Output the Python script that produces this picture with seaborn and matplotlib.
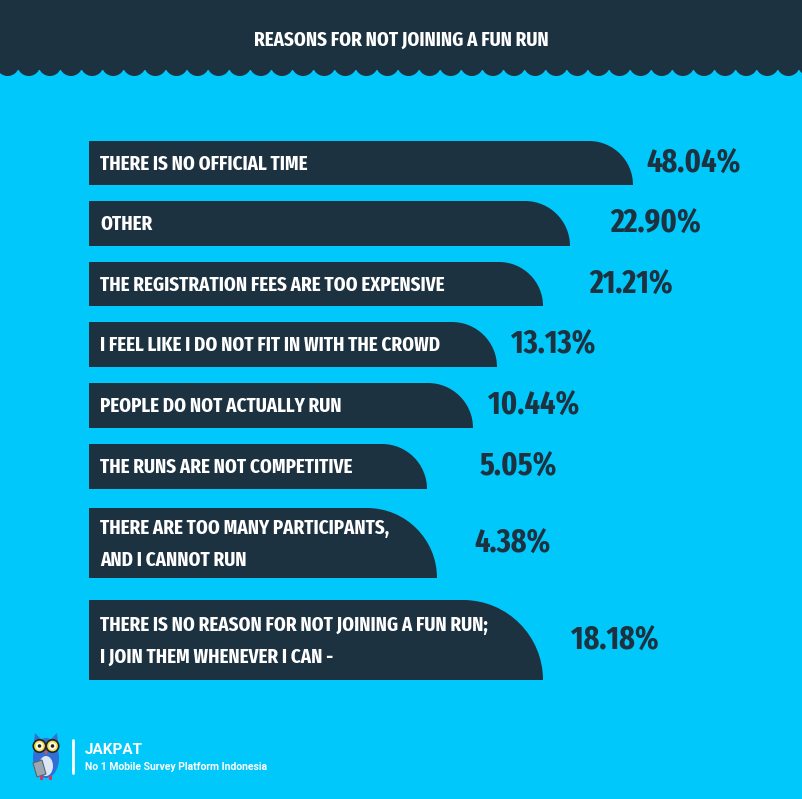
import matplotlib
matplotlib.use("Agg")
import matplotlib.pyplot as plt
import seaborn as sns
from matplotlib import font_manager
from matplotlib.font_manager import FontProperties
from matplotlib.path import Path
from matplotlib.patches import PathPatch, Rectangle, Circle, Ellipse, Polygon

# data read from the infographic
reasons = [
    "THERE IS NO OFFICIAL TIME",
    "OTHER",
    "THE REGISTRATION FEES ARE TOO EXPENSIVE",
    "I FEEL LIKE I DO NOT FIT IN WITH THE CROWD",
    "PEOPLE DO NOT ACTUALLY RUN",
    "THE RUNS ARE NOT COMPETITIVE",
    "THERE ARE TOO MANY PARTICIPANTS,\nAND I CANNOT RUN",
    "THERE IS NO REASON FOR NOT JOINING A FUN RUN;\nI JOIN THEM WHENEVER I CAN -",
]
share = [48.04, 22.90, 21.21, 13.13, 10.44, 5.05, 4.38, 18.18]
# the bars in the picture are not scaled to the shares, these are the drawn lengths (px)
bar_len = [544, 481, 454, 408, 384, 338, 348, 454]

# layout (pixels, from the top of the image)
row_y = [163, 223.5, 284, 344.5, 405.5, 466.5, 543, 640]
bar_h = [44, 45, 44, 45, 45, 45, 70, 80]
pct_x = [646, 610, 589, 511, 488, 480, 474, 571]
bar_x0 = 89

W, H = 803, 799
BG = "#00C8FA"
DARK = "#1D3241"

sns.set_theme(style="white")


def stretch_val(s):
    table = {"ultra-condensed": 100, "extra-condensed": 200, "condensed": 300,
             "semi-condensed": 400, "normal": 500}
    if isinstance(s, str):
        return table.get(s, 500)
    return s


def weight_val(w):
    table = {"bold": 700, "semibold": 600, "demibold": 600, "heavy": 800,
             "black": 900, "normal": 400, "regular": 400, "medium": 500}
    if isinstance(w, str):
        return table.get(w, 400)
    return w


# pick the narrowest bold face that is installed (the original uses a condensed display font)
cands = []
for f in font_manager.fontManager.ttflist:
    if "CJK" in f.name or f.style != "normal":
        continue
    st = stretch_val(f.stretch)
    narrow = "Condensed" in f.name or "Narrow" in f.name
    if st < 500 or narrow:
        if "Extra" in f.name or "Ultra" in f.name:
            st = min(st, 200)
        elif narrow:
            st = min(st, 300)
        cands.append((abs(st - 200) + abs(weight_val(f.weight) - 700) / 2, f.fname))
if cands:
    cands.sort()
    COND = FontProperties(fname=cands[0][1])
else:
    COND = FontProperties(family="Roboto", weight="bold")

fig = plt.figure(figsize=(W / 100, H / 100), dpi=100, facecolor=BG)
renderer = fig.canvas.get_renderer()

# bars (drawn in their own axes, one data unit = one pixel)
bax = fig.add_axes([bar_x0 / W, 0, (W - bar_x0) / W, 1])
sns.barplot(x=bar_len, y=row_y, orient="h", native_scale=True,
            color=DARK, saturation=1, ax=bax)
bax.set_xlim(0, W - bar_x0)
bax.set_ylim(H, 0)
bax.axis("off")
bax.patch.set_alpha(0)
bax.set_zorder(1)

k = 0.5523
bars = sorted(bax.patches, key=lambda p: p.get_y())
for p, h in zip(bars, bar_h):
    yc = p.get_y() + p.get_height() / 2
    x0, x1 = p.get_x(), p.get_x() + p.get_width()
    yt, yb = yc - h / 2, yc + h / 2
    rx = ry = h
    verts = [(x0, yt), (x1 - rx, yt),
             (x1 - rx + k * rx, yt), (x1, yt + ry - k * ry), (x1, yt + ry),
             (x1, yb), (x0, yb), (x0, yt)]
    codes = [Path.MOVETO, Path.LINETO,
             Path.CURVE4, Path.CURVE4, Path.CURVE4,
             Path.LINETO, Path.LINETO, Path.CLOSEPOLY]
    bax.add_patch(PathPatch(Path(verts, codes), color=DARK, lw=0))
    p.set_visible(False)

# overlay axes in pixel coords for header, texts and footer
ax = fig.add_axes([0, 0, 1, 1])
ax.set_xlim(0, W)
ax.set_ylim(H, 0)
ax.axis("off")
ax.patch.set_alpha(0)
ax.set_zorder(2)


def fit_size(text, target_w, start=20):
    t = ax.text(0, 0, text, fontproperties=COND, fontsize=start, fontweight="bold")
    w = t.get_window_extent(renderer).width
    t.remove()
    return start * target_w / w


lab_size = min(fit_size("THERE IS NO OFFICIAL TIME", 206), 18)
pct_size = min(fit_size("48.04%", 94), 30)

# header band with scalloped edge
ax.add_patch(Rectangle((0, 0), W, 70, color=DARK, lw=0))
cx = 7.7
while cx < W + 12:
    ax.add_patch(Circle((cx, 64.5), 11.5, color=DARK, lw=0))
    cx += 21.1
ax.text(W / 2, 40, "REASONS FOR NOT JOINING A FUN RUN", color="white",
        fontproperties=COND, fontsize=lab_size, fontweight="bold",
        ha="center", va="center")

for lab, v, y, px in zip(reasons, share, row_y, pct_x):
    ax.text(bar_x0 + 11, y + 1, lab, color="white", fontproperties=COND,
            fontsize=lab_size, fontweight="bold",
            ha="left", va="center", linespacing=1.8)
    ax.text(px, y + 1, f"{v:.2f}%", color=DARK, fontproperties=COND,
            fontsize=pct_size, fontweight="bold", ha="left", va="center")

# footer logo (simple owl)
blue = "#2F6FD6"
ax.add_patch(Polygon([(34, 742), (35, 733), (41, 739)], color=blue, lw=0))
ax.add_patch(Polygon([(58, 742), (57, 733), (51, 739)], color=blue, lw=0))
ax.add_patch(Ellipse((46, 758), 26, 40, color=blue, lw=0))
ax.add_patch(Ellipse((46, 766), 14, 20, color="#DDE6F5", lw=0))
for ex in (39.5, 52.5):
    ax.add_patch(Circle((ex, 746), 6.2, facecolor="#F7E04B", edgecolor="#222222", lw=1.2))
    ax.add_patch(Circle((ex, 746), 3.6, facecolor="white", lw=0))
    ax.add_patch(Circle((ex, 746), 1.8, facecolor="#222222", lw=0))
ax.add_patch(Polygon([(44, 751), (48, 751), (46, 755)], color="#E2503C", lw=0))
ax.add_patch(Polygon([(33, 763), (42, 760), (46, 774), (37, 777)],
                     facecolor="#9AA6B2", edgecolor="#5A6470", lw=0.8))
ax.add_patch(Rectangle((40, 776), 3, 4, color="#D8345F", lw=0))
ax.add_patch(Rectangle((49, 776), 3, 4, color="#D8345F", lw=0))

ax.plot([73, 73], [740, 773], color="white", lw=2)
ax.text(85, 750, "JAKPAT", color="white", family=["Roboto", "DejaVu Sans"],
        fontweight="bold", fontsize=11, ha="left", va="center")
ax.text(85, 766.5, "No 1 Mobile Survey Platform Indonesia", color="white",
        family=["Roboto", "DejaVu Sans"], fontweight="bold", fontsize=7.5,
        ha="left", va="center")

fig.savefig("out.png", dpi=100, facecolor=BG)
